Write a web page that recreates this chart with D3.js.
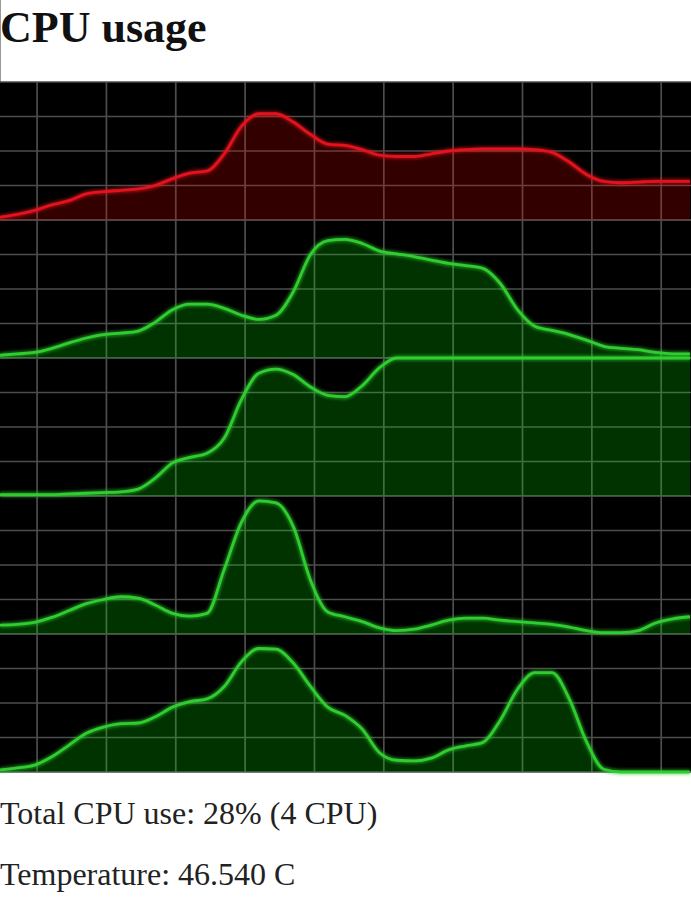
<!DOCTYPE html>
<html>
<head>
<meta charset="utf-8">
<script src="https://cdn.jsdelivr.net/npm/d3@7"></script>
<style>
  body { margin: 0; background: #fff; }
  svg { display: block; }
</style>
</head>
<body>
<div id="chart"></div>
<script>
// one band per cpu, values in % (41 samples across the window)
const cpuNames = ["total", "cpu0", "cpu1", "cpu2", "cpu3"];

const totalUsage = [2, 4, 7, 11, 14, 19, 20.5, 21.5, 22.5, 25, 30, 34, 35.5, 48, 68, 77, 77, 71, 62, 55,
    54, 51, 47, 46, 46, 48, 50, 51, 51.5, 51.5, 51.5, 51, 49, 42, 33, 28, 27, 27.5, 28, 28, 28];
const core0 = [2, 3, 4, 7, 11, 14.5, 17, 18, 19.5, 26, 35, 39, 39, 36, 31, 28, 31, 48, 75, 85,
    86, 83, 77.5, 75.5, 73.5, 71, 68.5, 67, 65, 54, 35, 23, 20, 17, 13, 8.5, 7, 6, 4, 3, 3];
const core1 = [1, 1, 1, 1, 1.5, 2, 2.5, 3, 5, 13, 24, 28, 31, 42, 70, 89, 92, 88, 79, 73,
    72, 80, 93, 100, 100, 100, 100, 100, 100, 100, 100, 100, 100, 100, 100, 100, 100, 100, 100, 100, 100];
const core2 = [6.5, 7, 8.5, 12, 17, 22, 25, 27, 26, 21, 15, 13, 15, 47, 81, 96.5, 95, 78, 39, 16,
    12.5, 9, 4.5, 2.5, 3.5, 6.5, 10, 11.5, 11.5, 10, 9, 8, 7, 5, 2.5, 1, 1, 2.5, 8, 11, 12.5];
const core3 = [1.5, 3, 5, 11, 19.5, 28, 32.5, 35, 35.5, 40, 47, 51, 53, 62, 80, 89.5, 89, 79, 62, 47,
    41, 31, 14, 8.5, 8, 10, 16, 19, 21.5, 37.5, 60, 72, 72, 53, 22, 2, 0, 0, 0, 0, 0];

const series = [totalUsage, core0, core1, core2, core3];
const yTicks = [0, 25, 50, 75, 100];

const totalText = "Total CPU use: 28% (4 CPU)";
const tempText = "Temperature: 46.540 C";

const W = 691, H = 901;
const chartTop = 82, chartBottom = 772;

const svg = d3.select("#chart").append("svg")
    .attr("width", W)
    .attr("height", H);

const x = d3.scaleLinear()
    .domain([0, totalUsage.length - 1])
    .range([0, 690]);

const band = d3.scaleBand()
    .domain(cpuNames)
    .range([chartTop, chartBottom]);

// faint page edge next to the title
svg.append("line")
    .attr("x1", 0.5).attr("x2", 0.5)
    .attr("y1", 0).attr("y2", chartTop)
    .style("stroke", "#999")
    .style("stroke-width", 1);

svg.append("text")
    .attr("x", 0)
    .attr("y", 42)
    .style("font-family", "'Liberation Serif', 'Times New Roman', serif")
    .style("font-weight", "bold")
    .style("font-size", "44px")
    .style("fill", "#111")
    .text("CPU usage");

svg.append("rect")
    .attr("x", 0)
    .attr("y", chartTop)
    .attr("width", W)
    .attr("height", chartBottom - chartTop)
    .style("fill", "#000");

const grid = svg.append("g").attr("class", "grid");

// vertical grid scrolls with time, so it is offset from the first sample
const gridStart = 2.15, gridStep = 4.02;
grid.selectAll("line.v")
    .data(d3.range(gridStart, totalUsage.length, gridStep))
    .enter().append("line")
    .attr("class", "v")
    .attr("x1", d => x(d)).attr("x2", d => x(d))
    .attr("y1", chartTop).attr("y2", chartBottom)
    .style("stroke", "#4d4d4d")
    .style("stroke-width", 1.7);

cpuNames.forEach(name => {
    const y = d3.scaleLinear()
        .domain([0, 100])
        .range([band(name) + band.bandwidth(), band(name)]);
    grid.selectAll(null)
        .data(yTicks)
        .enter().append("line")
        .attr("x1", 0).attr("x2", W)
        .attr("y1", d => y(d)).attr("y2", d => y(d))
        .style("stroke", "#4d4d4d")
        .style("stroke-width", 1.7);
});

const defs = svg.append("defs");
defs.append("filter")
    .attr("id", "glow")
    .attr("x", "-5%").attr("y", "-20%")
    .attr("width", "110%").attr("height", "140%")
    .append("feGaussianBlur")
    .attr("stdDeviation", 1.6);

cpuNames.forEach((name, i) => {
    const values = series[i];
    const isTotal = i === 0;
    const stroke = isTotal ? "rgb(228,18,30)" : "rgb(48,205,48)";
    const fill = isTotal ? "rgba(255,0,0,0.2)" : "rgba(0,255,0,0.2)";

    const y = d3.scaleLinear()
        .domain([0, 100])
        .range([band(name) + band.bandwidth(), band(name)]);

    const area = d3.area()
        .x((d, j) => x(j))
        .y0(y(0))
        .y1(d => y(d))
        .curve(d3.curveMonotoneX);

    const line = d3.line()
        .x((d, j) => x(j))
        .y(d => y(d))
        .curve(d3.curveMonotoneX);

    const g = svg.append("g").attr("class", "cpu " + name);

    g.append("path")
        .datum(values)
        .attr("d", area)
        .style("fill", fill);

    g.append("path")
        .datum(values)
        .attr("d", line)
        .attr("filter", "url(#glow)")
        .style("fill", "none")
        .style("stroke", stroke)
        .style("stroke-width", 5.5)
        .style("opacity", 0.55);

    g.append("path")
        .datum(values)
        .attr("d", line)
        .style("fill", "none")
        .style("stroke", stroke)
        .style("stroke-width", 2.8);
});

svg.selectAll("text.info")
    .data([totalText, tempText])
    .enter().append("text")
    .attr("class", "info")
    .attr("x", 0)
    .attr("y", (d, i) => 824 + i * 61)
    .style("font-family", "'Liberation Serif', 'Times New Roman', serif")
    .style("font-size", "32px")
    .style("fill", "#222")
    .text(d => d);
</script>
</body>
</html>
